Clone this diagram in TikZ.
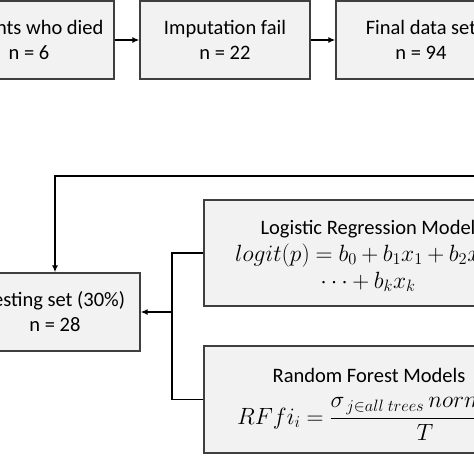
\RequirePackage{fix-cm}
\documentclass[tikz,border=0pt]{standalone}
\usepackage{amsmath}
\usepackage{fontspec}
\setmainfont{Carlito}
\usetikzlibrary{arrows.meta}
\definecolor{boxfill}{HTML}{F2F2F2}
\definecolor{boxline}{HTML}{3F3F3F}
\tikzset{
  box/.style={draw=boxline, line width=1.3pt, fill=boxfill, rectangle, inner sep=0pt,
    align=center, font=\fontsize{20.5}{25}\selectfont},
  lbl/.style={inner sep=0pt, align=center, font=\fontsize{20.5}{25}\selectfont},
  mth/.style={inner sep=0pt, align=center, font=\fontsize{23.5}{28}\selectfont},
  conn/.style={draw=black, line width=1.6pt},
  arr/.style={conn, -{Latex[length=7pt,width=6pt]}}
}
\medmuskip=3.5mu plus 2mu minus 4mu
\thickmuskip=4.5mu plus 5mu
\begin{document}
\begin{tikzpicture}[x=1pt,y=-1pt]
\useasboundingbox (0,0) rectangle (474,474);
\clip (0,0) rectangle (474,474);
% top row
\node[box, minimum width=170pt, minimum height=78pt] (died) at (29,40) {Patients who died\\n = 6};
\node[box, minimum width=170pt, minimum height=78pt] (imp) at (225,40) {Imputation fail\\n = 22};
\node[box, minimum width=170pt, minimum height=78pt] (final) at (421,40) {Final data set\\n = 94};
\draw[arr] (died.east) -- (imp.west);
\draw[arr] (imp.east) -- (final.west);
% testing set
\node[box, minimum width=170pt, minimum height=78pt] (test) at (55,312) {Testing set (30\%)\\n = 28};
\coordinate (src) at (495,176);
\draw[arr] (src) -- (55,176) -- (test.north);
% models
\node[box, minimum width=328pt, minimum height=106pt] (lr) at (368,253) {};
\node[lbl, anchor=center] (lrt) at (368,229) {Logistic Regression Model};
\node[mth, anchor=base west] (lrf) at (235,261) {$logit(p) = b_0 + b_1x_1 + b_2x_2 +$};
\node[mth, anchor=base] (lrf2) at (368,288) {$\cdots + b_kx_k$};
\node[box, minimum width=328pt, minimum height=107pt] (rf) at (368,399.5) {};
\node[lbl, anchor=center] (rft) at (369,375) {Random Forest Models};
\node[mth, anchor=base west] (rff) at (237,424) {$RFfi_i = \dfrac{\sigma_{\,j\in all\; trees}\, normfi_{ij}}{T}$};
\coordinate (j) at (172,312);
\draw[conn] (lr.west) -- (172,253) -- (172,399.5) -- (rf.west);
\draw[arr] (j) -- (test.east);
\end{tikzpicture}
\end{document}
